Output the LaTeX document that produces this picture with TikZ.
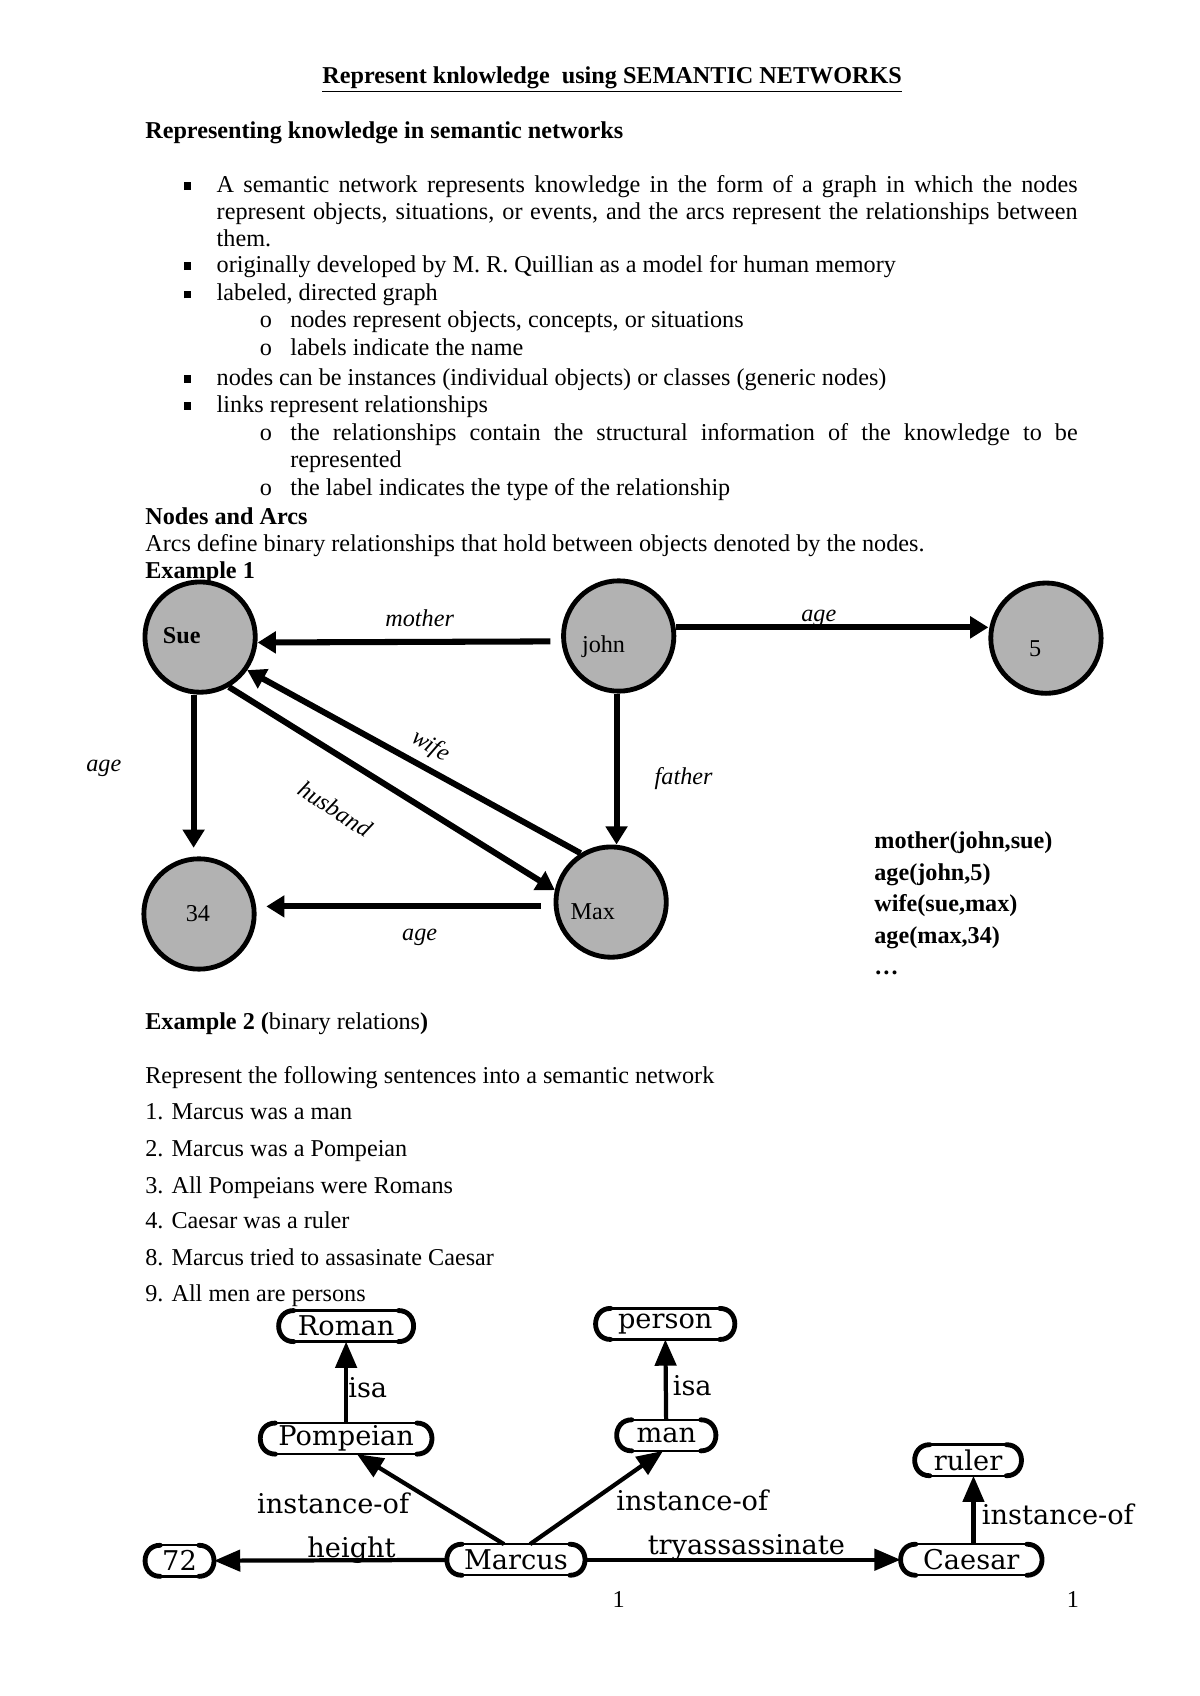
\documentclass[tikz,border=0pt]{standalone}
\usepackage{fontspec}
\setmainfont{Liberation Serif}
\newfontfamily\dvs{DejaVu Serif}
\usetikzlibrary{arrows.meta,shapes.misc,calc}
\newlength\pu
\setlength\pu{0.5366pt}
\newcommand\pillnode[4]{%
  \node[pill,minimum width=#3\pu] (#1) at (#2) {#4};
  \draw[pilledge] ([xshift=7.5pt]#1.north west) -- ([xshift=-7.5pt]#1.north east)
                  ([xshift=7.5pt]#1.south west) -- ([xshift=-7.5pt]#1.south east);
  \draw[pillend] ([xshift=7.5pt]#1.north west) .. controls ([xshift=-2.5pt]#1.north west) and ([xshift=-2.5pt]#1.south west) .. ([xshift=7.5pt]#1.south west);
  \draw[pillend] ([xshift=-7.5pt]#1.north east) .. controls ([xshift=2.5pt]#1.north east) and ([xshift=2.5pt]#1.south east) .. ([xshift=-7.5pt]#1.south east);
}
\begin{document}
\begin{tikzpicture}[x=\pu,y=-\pu,
  txt/.style={anchor=base west,inner sep=0pt,font=\fontsize{12}{14}\selectfont},
  bul/.style={anchor=base west,inner sep=0pt},
  circ/.style={circle,draw,line width=2.4pt,fill=black!30,minimum size=102\pu,inner sep=0pt},
  clab/.style={inner sep=0pt,font=\fontsize{12}{14}\selectfont},
  arr/.style={line width=3pt,-{Triangle[length=9pt,width=10.5pt]}},
  lab/.style={inner sep=0pt,font=\itshape\fontsize{12}{14}\selectfont},
  pill/.style={rectangle,minimum height=28\pu,inner xsep=2pt,inner ysep=0pt,font=\dvs\fontsize{13.5}{14}\selectfont},
  pilledge/.style={line width=1.2pt},
  pillend/.style={line width=2.4pt,line cap=round},
  arr2/.style={line width=2.1pt,-{Triangle[length=13pt,width=10.5pt]}},
  lab2/.style={inner sep=0pt,font=\dvs\fontsize{13.5}{14}\selectfont}]
\useasboundingbox (0,0) rectangle (1109.4,1568);
\fill[white] (0,0) rectangle (1109.4,1568);
% title and text
\node[txt,anchor=base] (title) at (566,77) {\bfseries\underline{Represent knlowledge\ \ using SEMANTIC NETWORKS}};
\node[txt] (h1) at (134,128) {\bfseries Representing knowledge in semantic networks};
\node[bul] (b1) at (170,178) {\rule[1.2pt]{3.3pt}{3.8pt}};
\node[txt] (l1) at (200,178) {\makebox[796\pu][s]{A semantic network represents knowledge in the form of a graph in which the nodes}};
\node[txt] (l2) at (200,203) {\makebox[796\pu][s]{represent objects, situations, or events, and the arcs represent the relationships between}};
\node[txt] (l3) at (200,228) {them.};
\node[bul] (b2) at (170,252) {\rule[1.2pt]{3.3pt}{3.8pt}};
\node[txt] (l4) at (200,252) {originally developed by M. R. Quillian as a model for human memory};
\node[bul] (b3) at (170,278) {\rule[1.2pt]{3.3pt}{3.8pt}};
\node[txt] (l5) at (200,278) {labeled, directed graph};
\node[txt] (o1) at (240,303) {o};
\node[txt] (l6) at (268,303) {nodes represent objects, concepts, or situations};
\node[txt] (o2) at (240,329) {o};
\node[txt] (l7) at (268,329) {labels indicate the name};
\node[bul] (b4) at (170,356) {\rule[1.2pt]{3.3pt}{3.8pt}};
\node[txt] (l8) at (200,356) {nodes can be instances (individual objects) or classes (generic nodes)};
\node[bul] (b5) at (170,381) {\rule[1.2pt]{3.3pt}{3.8pt}};
\node[txt] (l9) at (200,381) {links represent relationships};
\node[txt] (o3) at (240,407) {o};
\node[txt] (l10) at (268,407) {\makebox[728\pu][s]{the relationships contain the structural information of the knowledge to be}};
\node[txt] (l11) at (268,432) {represented};
\node[txt] (o4) at (240,458) {o};
\node[txt] (l12) at (268,458) {the label indicates the type of the relationship};
\node[txt] (h2) at (134,485) {\bfseries Nodes and Arcs};
\node[txt] (l13) at (134,510) {Arcs define binary relationships that hold between objects denoted by the nodes.};
\node[txt] (h3) at (134,535) {\bfseries Example 1};
% example 1
\node[circ] (sue) at (185,589) {};
\node[circ] (john) at (572,588) {};
\node[circ] (five) at (967,590) {};
\node[circ] (n34) at (184,845) {};
\node[circ] (max) at (565,834) {};
\node[clab,font=\bfseries\fontsize{12}{14}\selectfont] (suet) at (168,588) {Sue};
\node[clab] (johnt) at (558,598) {john};
\node[clab] (fivet) at (957,600) {5};
\node[clab] (n34t) at (183,845) {34};
\node[clab] (maxt) at (548,843) {Max};
\draw[arr] ($(john.west)+(-10,5)$) -- ($(sue.east)+(0,5)$);
\draw[arr] ($(john.east)+(0,-8)$) -- ($(five.west)+(0,-10)$);
\draw[arr] ($(sue.south)+(-6,0)$) -- ($(n34.north)+(-5,-8)$);
\draw[arr] ($(john.south)+(-2,0)$) -- ($(john.south |- max.north)+(-2,0)$);
\draw[arr] (max.122) -- (sue.-35);
\draw[arr] (sue.-60) -- (max.168);
\draw[arr] ($(max.west)+(-12,4)$) -- ($(n34.east)+(9,-7)$);
\node[lab] (lmother) at (388,572) {mother};
\node[lab] (lage1) at (757,572) {age};
\node[lab] (lage2) at (96,710) {age};
\node[lab] (lfather) at (632,720) {father};
\node[lab,rotate=-31] (lwife) at (398,690) {wife};
\node[lab,rotate=-33] (lhusband) at (310,748) {husband};
\node[lab] (lage3) at (388,867) {age};
\node[txt,font=\bfseries\fontsize{12}{14}\selectfont] (f1) at (808,784) {mother(john,sue)};
\node[txt,font=\bfseries\fontsize{12}{14}\selectfont] (f2) at (808,814) {age(john,5)};
\node[txt,font=\bfseries\fontsize{12}{14}\selectfont] (f3) at (808,843) {wife(sue,max)};
\node[txt,font=\bfseries\fontsize{12}{14}\selectfont] (f4) at (808,872) {age(max,34)};
\node[txt,font=\bfseries\fontsize{12}{14}\selectfont] (f5) at (808,901) {\dots};
% example 2 text
\node[txt] (h4) at (134,952) {\textbf{Example 2 (}binary relations\textbf{)}};
\node[txt] (m0) at (134,1002) {Represent the following sentences into a semantic network};
\node[txt] (m1) at (134,1035) {1. Marcus was a man};
\node[txt] (m2) at (134,1069) {2. Marcus was a Pompeian};
\node[txt] (m3) at (134,1103) {3. All Pompeians were Romans};
\node[txt] (m4) at (134,1136) {4. Caesar was a ruler};
\node[txt] (m5) at (134,1170) {8. Marcus tried to assasinate Caesar};
\node[txt] (m6) at (134,1203) {9. All men are persons};
% example 2 diagram
\pillnode{roman}{320,1226}{124}{Roman}
\pillnode{person}{615,1224}{128}{person}
\pillnode{pomp}{320,1330}{158}{Pompeian}
\pillnode{man}{616,1327}{91}{man}
\pillnode{ruler}{895,1350}{98}{ruler}
\pillnode{n72}{166,1443}{63}{72}
\pillnode{marcus}{477,1442}{127}{Marcus}
\pillnode{caesar}{898,1442}{130}{Caesar}
\draw[arr2] (pomp) -- (roman);
\draw[arr2] (man) -- (person);
\draw[arr2] ($(marcus.north)+(-11,0)$) -- ($(pomp.south)+(10,0)$);
\draw[arr2] ($(marcus.north)+(13,0)$) -- ($(man.south)+(-3,0)$);
\draw[arr2] ($(caesar.north)+(2,0)$) -- ($(caesar.north |- ruler.south)+(2,0)$);
\draw[arr2] (marcus) -- (n72);
\draw[arr2] (marcus) -- (caesar);
\node[lab2] (isa1) at (340,1283) {isa};
\node[lab2] (isa2) at (640,1281) {isa};
\node[lab2] (io1) at (308,1390) {instance-of};
\node[lab2] (io2) at (640,1387) {instance-of};
\node[lab2] (io3) at (978,1400) {instance-of};
\node[lab2] (hgt) at (325,1433) {height};
\node[lab2] (try) at (690,1431) {tryassassinate};
\node[txt] (p1) at (566,1486) {1};
\node[txt] (p2) at (986,1486) {1};
\end{tikzpicture}
\end{document}
